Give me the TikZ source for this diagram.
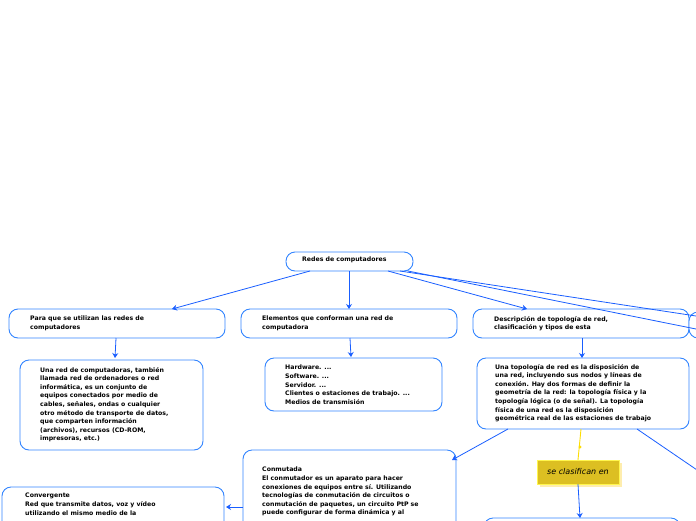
\documentclass[tikz,border=0pt]{standalone}
\usepackage{fontspec}
\setmainfont{DejaVu Sans}
\usetikzlibrary{arrows.meta}
\begin{document}
\begin{tikzpicture}[x=1pt,y=-1pt,
 box/.style={draw=blue!60!cyan!80!white,line width=0.9pt,rounded corners=9pt,fill=white},
 txt/.style={anchor=north west,align=left,inner sep=0pt,font=\fontsize{6.2}{8.6}\selectfont\bfseries},
 arr/.style={-{Stealth[length=5pt,width=6pt]},draw=blue!70!cyan!90!white,line width=0.8pt}]
\useasboundingbox (0,0) rectangle (696,520);
\clip (0,0) rectangle (696,520);
\colorlet{ln}{blue!70!cyan!90!white}
% boxes
\draw[box] (286,252) rectangle (413,271); \node[txt] (root) at (302,257) {Redes de computadores};
\coordinate (rootc) at (349,271);
\draw[box] (9,309) rectangle (225,338); \node[txt] (a) at (30,316) {Para que se utilizan las redes de\\computadores};
\draw[box] (241,309) rectangle (457,338); \node[txt] (b) at (262,316) {Elementos que conforman una red de\\computadora};
\draw[box] (473,309) rectangle (689,338); \node[txt] (c) at (494,316) {Descripción de topología de red,\\clasificación y tipos de esta};
\draw[box] (689,312) rectangle (760,338);
\draw[box] (20,360) rectangle (203,450); \node[txt] (a1) at (40,367) {Una red de computadoras, también\\llamada red de ordenadores o red\\informática, es un conjunto de\\equipos conectados por medio de\\cables, señales, ondas o cualquier\\otro método de transporte de datos,\\que comparten información\\(archivos), recursos (CD-ROM,\\impresoras, etc.)};
\draw[box] (265,358) rectangle (442,411); \node[txt] (b1) at (285,365) {Hardware. ...\\Software. ...\\Servidor. ...\\Clientes o estaciones de trabajo. ...\\Medios de transmisión};
\draw[box] (477,358) rectangle (689,429); \node[txt] (c1) at (495,364) {Una topología de red es la disposición de\\una red, incluyendo sus nodos y líneas de\\conexión. Hay dos formas de definir la\\geometría de la red: la topología física y la\\topología lógica (o de señal). La topología\\física de una red es la disposición\\geométrica real de las estaciones de trabajo};
\draw[box] (243,450) rectangle (456,560); \node[txt] (d) at (262,467) {Conmutada\\El conmutador es un aparato para hacer\\conexiones de equipos entre sí. Utilizando\\tecnologías de conmutación de circuitos o\\conmutación de paquetes, un circuito PtP se\\puede configurar de forma dinámica y al};
\draw[box] (2,487) rectangle (224,560); \node[txt] (e) at (25,493) {Convergente\\Red que transmite datos, voz y vídeo\\utilizando el mismo medio de la};
\draw[box] (484,518) rectangle (680,560);
% label
\fill[yellow!60!orange!30!white] (540,463) rectangle (622,487);
\node[draw=yellow!70!white,fill=yellow!75!orange!85!black,minimum width=82pt,minimum height=24pt,inner sep=0pt,font=\itshape\fontsize{8}{9}\selectfont] (lab) at (578,472) {se clasifican en};
% connectors
\draw[arr] (310,271) -- (172,309);
\draw[arr] (rootc) -- (349,309);
\draw[arr] (388,271) -- (527,309);
\draw[ln,line width=0.8pt] (400,271) -- (696,316);
\draw[ln,line width=0.8pt] (408,271) -- (696,329);
\draw[arr] (116,338) -- (115,358);
\draw[arr] (350,338) -- (351,357);
\draw[arr] (582,338) -- (582,358);
\draw[arr] (508,429) -- (452,460);
\draw[ln,line width=0.8pt] (637,429) -- (700,472);
\draw[yellow!80!orange,line width=0.9pt] (581,429) -- (lab.north);
\fill[yellow!80!orange] (580,447) circle (1.6);
\draw[arr] (lab.south) -- (580,518);
\draw[arr] (243,507) -- (226,507);
\end{tikzpicture}
\end{document}
